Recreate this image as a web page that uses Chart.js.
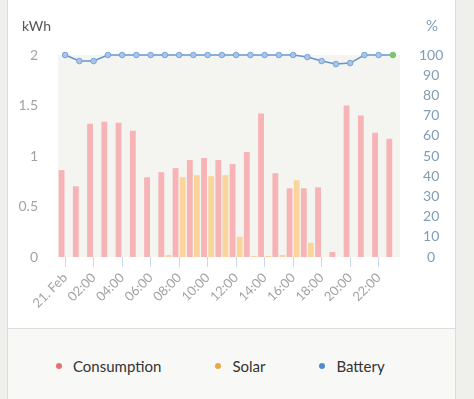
<!DOCTYPE html>
<html>
<head>
<meta charset="utf-8">
<script src="https://cdn.jsdelivr.net/npm/chart.js@4"></script>
<style>
html, body { margin:0; padding:0; width:474px; height:399px; overflow:hidden; background:#efefec; font-family:Lato, "Open Sans", sans-serif; }
.card { position:absolute; left:7px; top:-6px; width:447px; height:420px; background:#fff; border:1px solid #dcdcd8; border-radius:6px; overflow:hidden; }
.chartBox { position:absolute; left:0; top:5px; width:447px; height:328px; }
.legendBox { position:absolute; left:0; top:333px; width:447px; height:100px; background:#f8f8f6; border-top:1px solid #dcdcd8; }
.legendBox ul { list-style:none; margin:0; padding:0 0 0 48px; display:flex; gap:54px; position:absolute; top:28px; }
.legendBox li { display:flex; align-items:center; font-size:15px; color:#333; }
.legendBox li i { width:6px; height:6px; border-radius:50%; margin-right:11px; display:inline-block; }
</style>
</head>
<body>
<div class="card">
  <div class="chartBox"><canvas id="chartEnergy" width="447" height="328"></canvas></div>
  <div class="legendBox"><ul id="legendList"></ul></div>
</div>
<script>
// 시간 라벨 (2시간마다 표시)
let hourLabels = ["21. Feb","01:00","02:00","03:00","04:00","05:00","06:00","07:00","08:00","09:00","10:00","11:00",
                  "12:00","13:00","14:00","15:00","16:00","17:00","18:00","19:00","20:00","21:00","22:00","23:00"];

// kWh
let consumptionData = [0.86,0.70,1.32,1.34,1.33,1.25,0.79,0.84,0.88,0.96,0.98,0.96,
                       0.92,1.04,1.42,0.83,0.68,0.68,0.69,0.05,1.50,1.40,1.23,1.17];
let solarData       = [0,0,0,0,0,0,0,0.02,0.79,0.81,0.80,0.81,
                       0.20,0.01,0.01,0.02,0.76,0.14,0,0,0,0,0,0];
// %
let batteryData     = [100,97,97,100,100,100,100,100,100,100,100,100,
                       100,100,100,100,100,99,97,95.5,96,100,100,100];

let kwhTicks = [0,0.5,1,1.5,2];
let seriesNames  = ["Consumption","Solar","Battery"];
let legendColors = ["#e86f6f","#e9a844","#4f8ccb"];

// 배경 + 축 제목
const plotBgPlugin = {
    id : "plotBg",
    beforeDraw(chart){
        const {ctx, chartArea} = chart;
        ctx.save();
        ctx.fillStyle = "#f4f4f1";
        ctx.fillRect(chartArea.left, chartArea.top, chartArea.right-chartArea.left, chartArea.bottom-chartArea.top);
        ctx.restore();
    },
    afterDraw(chart){
        const ctx = chart.ctx;
        ctx.save();
        ctx.font = "14px Lato";
        ctx.textBaseline = "middle";
        ctx.fillStyle = "#555";
        ctx.textAlign = "left";
        ctx.fillText("kWh", 14, 26);
        ctx.fillStyle = "#7f9db5";
        ctx.textAlign = "center";
        ctx.font = "15px Lato";
        ctx.fillText("%", 424, 26);
        ctx.restore();
    }
};

let pointColors = batteryData.map((v, i) => i == batteryData.length-1 ? "#7cc36e" : "#a9c6ea");
let pointBorders = batteryData.map((v, i) => i == batteryData.length-1 ? "#7cc36e" : "#7aa3d6");

var chartArea1 = document.getElementById("chartEnergy").getContext("2d");
let chartEnergy = new Chart(chartArea1, {
    type : "bar",
    data : {
        labels : hourLabels,
        datasets : [
            {
                label : seriesNames[0],
                data : consumptionData,
                backgroundColor : "#f7b4b6",
                categoryPercentage : 1.0,
                barPercentage : 0.82,
                yAxisID : "y",
                order : 2
            },
            {
                label : seriesNames[1],
                data : solarData,
                backgroundColor : "#f9d59c",
                categoryPercentage : 1.0,
                barPercentage : 0.82,
                yAxisID : "y",
                order : 2
            },
            {
                type : "line",
                label : seriesNames[2],
                data : batteryData,
                borderColor : "#6594cf",
                borderWidth : 1.5,
                pointRadius : 2.8,
                pointBorderWidth : 1,
                pointBackgroundColor : pointColors,
                pointBorderColor : pointBorders,
                tension : 0,
                clip : false,
                yAxisID : "y1",
                order : 0
            }
        ]
    },
    options : {
        responsive : false,
        animation : false,
        layout : { padding : { top : 55, left : 0, right : 0, bottom : 0 } },
        plugins : {
            legend : { display : false },
            tooltip : { enabled : false }
        },
        scales : {
            x : {
                offset : true,
                grid : {
                    offset : false,
                    drawOnChartArea : false,
                    tickLength : 10,
                    color : (c) => (c.index % 2 == 0) ? "#ccd6eb" : "rgba(0,0,0,0)"
                },
                border : { display : false },
                ticks : {
                    autoSkip : false,
                    maxRotation : 45,
                    minRotation : 45,
                    padding : 3,
                    color : "#a3a3a3",
                    font : { family : "Lato", size : 13 },
                    callback : (v, i) => (i % 2 == 0) ? hourLabels[i] : ""
                },
                afterFit : (s) => { s.width; s.height = 71; }
            },
            y : {
                position : "left",
                min : kwhTicks[0],
                max : kwhTicks[kwhTicks.length-1],
                grid : { display : false, drawTicks : false },
                border : { display : false },
                ticks : {
                    stepSize : 0.5,
                    padding : 20,
                    color : "#a3a3a3",
                    font : { family : "Lato", size : 14 },
                    callback : (v) => String(v)
                },
                afterFit : (s) => { s.width = 50; }
            },
            y1 : {
                position : "right",
                min : 0,
                max : 100,
                grid : { display : false, drawTicks : false },
                border : { display : false },
                ticks : {
                    stepSize : 10,
                    padding : 19,
                    crossAlign : "center",
                    color : "#7f9db5",
                    font : { family : "Lato", size : 14 }
                },
                afterFit : (s) => { s.width = 55; }
            }
        }
    },
    plugins : [plotBgPlugin]
});

// 범례
let legendHtml = "";
seriesNames.forEach((name, idx) => {
    legendHtml += `<li><i style="background:${legendColors[idx]}"></i>${name}</li>`;
});
document.getElementById("legendList").innerHTML = legendHtml;
</script>
</body>
</html>
